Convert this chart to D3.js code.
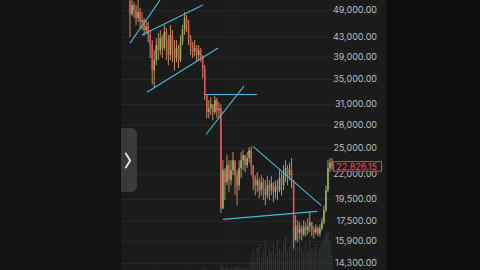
<!DOCTYPE html>
<html>
<head>
<meta charset="utf-8">
<script src="https://cdn.jsdelivr.net/npm/d3@7"></script>
<style>
  body { margin: 0; background: #121212; overflow: hidden; }
  svg { display: block; }
  .tick-label { font-family: Inter, Roboto, sans-serif; font-size: 9px; fill: #bdbdbd; }
</style>
</head>
<body>
<div id="chart"></div>
<script>
// prices in thousands, one candle per slot, open = previous close
var firstOpen = 51.2;
var closes = [48.05, 50.21, 49.0, 47.1, 48.5, 46.2, 46.66, 44.44, 45.3, 43.37,
  41.3, 36.55, 38.38, 41.3, 40.3, 42.7, 40.7, 44.0, 42.32, 39.33,
  43.37, 40.3, 38.8, 40.7, 38.38, 41.9, 44.44, 47.1, 45.54, 42.7,
  41.3, 39.9, 40.7, 39.33, 40.3, 38.8, 36.9, 32.35, 29.8, 30.3,
  30.95, 29.8, 31.57, 30.07, 30.3, 18.6, 22.43, 21.15, 22.98, 21.36,
  22.43, 23.55, 21.89, 20.84, 22.65, 23.55, 24.13, 22.98, 23.8, 24.73,
  22.98, 21.57, 20.84, 21.36, 20.34, 21.15, 20.55, 19.85, 20.84, 20.34,
  21.05, 20.15, 20.74, 20.34, 21.57, 20.84, 21.89, 22.65, 21.89, 22.43,
  21.36, 15.93, 17.14, 16.55, 16.9, 16.4, 17.05, 16.73, 17.05, 17.4,
  16.73, 16.57, 16.9, 16.48, 16.9, 17.4, 18.45, 20.34, 22.65, 23.3,
  22.826];
var highs = [52.6, 52.0, 50.9, 50.2, 51.45, 49.5, 48.5, 47.1, 46.7, 46.2,
  44.44, 42.32, 40.3, 42.7, 43.8, 44.44, 43.37, 45.54, 44.9, 43.37,
  45.54, 44.44, 42.32, 42.32, 41.3, 43.37, 45.54, 48.5, 47.82, 46.66,
  43.37, 41.9, 42.32, 41.3, 41.3, 40.7, 39.33, 37.46, 32.5, 31.57,
  32.0, 30.95, 32.2, 31.9, 31.25, 30.95, 23.55, 22.65, 24.13, 23.55,
  23.55, 24.5, 23.3, 22.43, 23.55, 24.5, 24.73, 24.13, 24.5, 25.1,
  25.2, 22.98, 21.89, 22.2, 21.57, 21.89, 21.57, 21.36, 21.78, 21.36,
  21.78, 21.15, 21.36, 21.36, 22.43, 22.2, 22.98, 23.55, 22.98, 23.3,
  23.8, 21.36, 18.0, 17.57, 17.4, 17.14, 17.57, 17.4, 17.74, 18.27,
  17.4, 17.05, 17.23, 17.05, 17.23, 17.74, 18.9, 20.84, 23.55, 23.8,
  23.8];
var lows = [42.95, 47.6, 47.1, 45.5, 46.2, 44.9, 44.4, 43.2, 43.6, 41.9,
  38.8, 34.1, 33.5, 37.46, 38.38, 39.33, 38.8, 40.3, 38.38, 37.46,
  38.38, 38.0, 36.55, 38.0, 36.9, 38.0, 41.3, 43.37, 44.0, 41.3,
  39.33, 38.8, 39.1, 38.0, 38.38, 38.0, 35.1, 31.57, 28.9, 28.9,
  29.34, 28.63, 29.5, 28.9, 28.9, 18.2, 18.6, 19.37, 20.84, 20.15,
  20.84, 21.89, 19.85, 18.9, 20.34, 21.57, 22.43, 22.2, 22.65, 23.3,
  21.89, 20.34, 19.85, 20.15, 19.55, 19.85, 19.37, 18.9, 19.55, 19.37,
  19.85, 19.2, 19.55, 19.37, 20.15, 19.85, 20.34, 21.15, 20.84, 21.36,
  20.55, 15.3, 15.93, 15.77, 16.0, 15.93, 16.24, 16.24, 16.4, 16.57,
  16.24, 16.08, 16.4, 16.24, 16.24, 16.73, 17.23, 18.27, 20.15, 22.2,
  22.43];
// volume, only the tall recent bars rise into view
var volumes = [0, 0, 0, 0, 0, 0, 0, 0, 0, 0,
  0, 1, 1, 0, 0, 0, 0, 0, 0, 0,
  0, 0, 0, 0, 0, 0, 0, 1, 0, 0,
  0, 0, 0, 0, 0, 0, 1, 3, 2, 0,
  0, 0, 0, 0, 0, 14, 10, 4, 6, 3,
  5, 2, 8, 10, 6, 4, 3, 5, 2, 4,
  30, 46, 20, 52, 62, 28, 48, 70, 34, 56,
  40, 66, 38, 74, 50, 42, 64, 80, 44, 58,
  72, 100, 78, 58, 70, 54, 46, 66, 44, 84,
  52, 50, 62, 40, 56, 64, 76, 88, 92, 70,
  36];

// axis ticks shown on the right price scale
var tickValues = [49000, 43000, 39000, 35000, 31000, 28000, 25000, 22000, 19500, 17500, 15900, 14300];
var lastPrice = 22826.15;

// trend lines drawn on the chart: [candle index, price in thousands]
var trendLines = [
  [[0, 41.7], [14.9, 51.45]],
  [[5.9, 43.37], [36.1, 50.21]],
  [[8.4, 32.8], [43.6, 40.7]],
  [[37.1, 32.45], [62.9, 32.45]],
  [[37.6, 26.7], [56.4, 33.8]],
  [[60.9, 25.2], [94.6, 18.9]],
  [[46.0, 17.65], [92.6, 18.35]]
];
var gridIndexes = [50.5];

var width = 480, height = 270;
var panelLeft = 121, panelRight = 386, plotRight = 333;

var candles = closes.map(function(c, i) {
  return {
    i: i,
    open: (i == 0 ? firstOpen : closes[i - 1]) * 1000,
    close: c * 1000,
    high: highs[i] * 1000,
    low: lows[i] * 1000,
    vol: volumes[i]
  };
});

var svg = d3.select("#chart").append("svg")
  .attr("width", width)
  .attr("height", height);

// background bands
svg.append("rect").attr("width", width).attr("height", height).attr("fill", "#121212");
svg.append("rect").attr("x", panelLeft).attr("width", panelRight - panelLeft).attr("height", height).attr("fill", "#1b1b1c");
svg.append("rect").attr("x", panelRight).attr("width", width - panelRight).attr("height", height).attr("fill", "#0e0e0e");

var x = d3.scaleLinear().domain([0, closes.length - 1]).range([130, 332]);
var y = d3.scaleLog().domain([14300, 49000]).range([262.5, 10]);
var v = d3.scaleLinear().domain([0, 100]).range([height, 228]);

svg.append("clipPath").attr("id", "plotclip")
  .append("rect").attr("x", panelLeft).attr("y", 0).attr("width", plotRight - panelLeft + 2).attr("height", height);

var plot = svg.append("g").attr("clip-path", "url(#plotclip)");

// grid
plot.selectAll(".hgrid")
  .data(tickValues)
  .enter().append("line")
  .attr("class", "hgrid")
  .attr("x1", panelLeft).attr("x2", plotRight)
  .attr("y1", function(d) { return Math.round(y(d)) + 0.5; })
  .attr("y2", function(d) { return Math.round(y(d)) + 0.5; })
  .attr("stroke", "#262627");

plot.selectAll(".vgrid")
  .data(gridIndexes)
  .enter().append("line")
  .attr("class", "vgrid")
  .attr("x1", function(d) { return x(d); }).attr("x2", function(d) { return x(d); })
  .attr("y1", 0).attr("y2", height)
  .attr("stroke", "#262627");

// volume bars
plot.selectAll(".vol")
  .data(candles)
  .enter().append("rect")
  .attr("class", "vol")
  .attr("x", function(d) { return x(d.i) - 0.6; })
  .attr("width", 1.2)
  .attr("y", function(d) { return v(d.vol); })
  .attr("height", function(d) { return height - v(d.vol); })
  .attr("fill", function(d) { return d.close >= d.open ? "#3c5a44" : "#48484c"; })
  .attr("opacity", 0.5);

var up = "#7cbd64", down = "#e2505c";

// wicks
plot.selectAll(".wick")
  .data(candles)
  .enter().append("line")
  .attr("class", "wick")
  .attr("x1", function(d) { return x(d.i); })
  .attr("x2", function(d) { return x(d.i); })
  .attr("y1", function(d) { return y(d.high); })
  .attr("y2", function(d) { return y(d.low); })
  .attr("stroke", "#d29a62")
  .attr("stroke-width", 0.9);

// bodies
plot.selectAll(".body")
  .data(candles)
  .enter().append("rect")
  .attr("class", "body")
  .attr("x", function(d) { return x(d.i) - 0.8; })
  .attr("width", 1.6)
  .attr("y", function(d) { return y(Math.max(d.open, d.close)); })
  .attr("height", function(d) { return Math.max(1, Math.abs(y(d.open) - y(d.close))); })
  .attr("fill", function(d) { return d.close >= d.open ? up : down; });

// trend lines
var line = d3.line()
  .x(function(d) { return x(d[0]); })
  .y(function(d) { return y(d[1] * 1000); });

plot.selectAll(".trend")
  .data(trendLines)
  .enter().append("path")
  .attr("class", "trend")
  .attr("d", line)
  .attr("fill", "none")
  .attr("stroke", "#45bcd2")
  .attr("stroke-width", 1.1);

// price axis labels
svg.selectAll(".tick-label")
  .data(tickValues)
  .enter().append("text")
  .attr("class", "tick-label")
  .attr("x", 377)
  .attr("y", function(d) { return y(d); })
  .attr("dy", "0.35em")
  .attr("text-anchor", "end")
  .text(function(d) { return d3.format(",.2f")(d); });

// last price marker
var ly = y(lastPrice);
svg.append("rect")
  .attr("x", 333.5).attr("y", ly - 5)
  .attr("width", 48).attr("height", 9.5)
  .attr("fill", "#1b1b1c")
  .attr("stroke", "#d8465a")
  .attr("stroke-width", 1);
svg.append("text")
  .attr("class", "tick-label")
  .attr("x", 377)
  .attr("y", ly)
  .attr("dy", "0.35em")
  .attr("text-anchor", "end")
  .style("fill", "#e0506a")
  .text(d3.format(",.2f")(lastPrice));

// side drawer tab
var tab = d3.path();
tab.moveTo(panelLeft, 128);
tab.lineTo(131, 128);
tab.arcTo(137, 128, 137, 134, 6);
tab.lineTo(137, 186);
tab.arcTo(137, 192, 131, 192, 6);
tab.lineTo(panelLeft, 192);
tab.closePath();
svg.append("path").attr("d", tab.toString()).attr("fill", "#3a3a3c");
svg.append("path")
  .attr("d", "M125.8,153.5 L130.2,160.5 L125.8,167.5")
  .attr("fill", "none")
  .attr("stroke", "#e6e6e6")
  .attr("stroke-width", 1.8)
  .attr("stroke-linecap", "round")
  .attr("stroke-linejoin", "round");
</script>
</body>
</html>
